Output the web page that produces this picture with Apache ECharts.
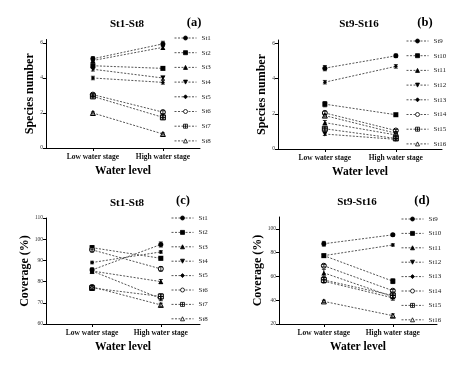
<!DOCTYPE html>
<html>
<head>
<meta charset="utf-8">
<script src="https://cdn.jsdelivr.net/npm/echarts@6/dist/echarts.min.js"></script>
<style>html,body{margin:0;padding:0;background:#fff}#c{width:474px;height:371px}</style>
</head>
<body>
<div id="c"></div>
<script>
// ---------- data ----------
const stages = ['Low water stage', 'High water stage'];
const namesA = ['St1','St2','St3','St4','St5','St6','St7','St8'];
const namesB = ['St9','St10','St11','St12','St13','St14','St15','St16'];

const speciesLowA  = [5.1, 4.7, 5.0, 4.5, 4.0, 3.05, 2.95, 2.0];
const speciesHighA = [5.95, 4.55, 5.75, 4.0, 3.75, 2.05, 1.75, 0.8];
const speciesErrLowA  = [0.12, 0.15, 0.12, 0.1, 0.1, 0.08, 0.08, 0.06];
const speciesErrHighA = [0.15, 0.06, 0.12, 0.1, 0.1, 0.08, 0.1, 0.06];

const speciesLowB  = [4.6, 2.55, 1.5, 0.85, 3.8, 2.05, 1.15, 1.9];
const speciesHighB = [5.3, 1.95, 0.8, 0.55, 4.7, 1.05, 0.6, 0.9];
const speciesErrLowB  = [0.15, 0.15, 0.12, 0.08, 0.1, 0.1, 0.08, 0.08];
const speciesErrHighB = [0.1, 0.05, 0.08, 0.06, 0.1, 0.06, 0.08, 0.06];

const coverLowA  = [85.5, 96, 85, 85, 89, 95, 77, 77.5];
const coverHighA = [97.5, 91, 80, 72, 94, 86, 73, 69];
const coverErrLowA  = [1.0, 1.0, 1.0, 1.2, 0.6, 1.0, 1.0, 1.0];
const coverErrHighA = [1.2, 0.8, 1.0, 1.0, 0.6, 1.0, 1.2, 0.8];

const coverLowB  = [87.5, 77.5, 63, 56, 77.5, 69, 57, 39];
const coverHighB = [95, 56, 43, 42, 86.5, 48, 44, 27];
const coverErrLowB  = [2.0, 1.0, 3.0, 1.5, 1.0, 1.0, 2.0, 1.0];
const coverErrHighB = [1.0, 2.0, 1.5, 2.0, 1.0, 1.0, 2.0, 1.5];

const speciesTicks = [0, 2, 4, 6];
const coverTicksA = [60, 70, 80, 90, 100, 110];
const coverTicksB = [20, 40, 60, 80, 100];

// ---------- styles ----------
const FONT = '"Liberation Serif", "Times New Roman", serif';
const symbols = [
  {symbol: 'circle', fill: '#000', size: 5},
  {symbol: 'rect', fill: '#000', size: 5},
  {symbol: 'triangle', fill: '#000', size: 5},
  {symbol: 'path://M0,0 L10,0 L5,10 Z', fill: '#000', size: 5},
  {symbol: 'diamond', fill: '#000', size: 4},
  {symbol: 'circle', fill: '#fff', size: 5},
  {symbol: 'path://M0,0H10V10H0Z M0,5H10 M5,0V10', fill: '#fff', size: 5},
  {symbol: 'triangle', fill: '#fff', size: 5}
];

const panels = [
  {names: namesA, low: speciesLowA, high: speciesHighA, eL: speciesErrLowA, eH: speciesErrHighA,
   grid: {left: 46, top: 39.5, width: 154, height: 108.5}, xr: [-0.67, 1.53],
   y: {min: 0, max: 6.2, interval: 2, ticks: speciesTicks}, yname: 'Species number', ynameGap: 10,
   legend: {left: 174, top: 34, gap: 6.7}},
  {names: namesB, low: speciesLowB, high: speciesHighB, eL: speciesErrLowB, eH: speciesErrHighB,
   grid: {left: 278, top: 40, width: 164, height: 109}, xr: [-0.66, 1.65],
   y: {min: 0, max: 6.2, interval: 2, ticks: speciesTicks}, yname: 'Species number', ynameGap: 10,
   legend: {left: 406, top: 37, gap: 6.7}},
  {names: namesA, low: coverLowA, high: coverHighA, eL: coverErrLowA, eH: coverErrHighA,
   grid: {left: 46, top: 218, width: 154, height: 106}, xr: [-0.67, 1.57],
   y: {min: 60, max: 110, interval: 10, ticks: coverTicksA}, yname: 'Coverage (%)', ynameGap: 13,
   legend: {left: 171, top: 214, gap: 6.4}},
  {names: namesB, low: coverLowB, high: coverHighB, eL: coverErrLowB, eH: coverErrHighB,
   grid: {left: 279, top: 217, width: 158, height: 107}, xr: [-0.65, 1.64],
   y: {min: 20, max: 110, interval: 20, ticks: coverTicksB}, yname: 'Coverage (%)', ynameGap: 14,
   legend: {left: 401, top: 215, gap: 6.4}}
];

const grids = [], xAxes = [], yAxes = [], series = [], legends = [];
panels.forEach((p, pi) => {
  grids.push(Object.assign({containLabel: false}, p.grid));
  xAxes.push({
    type: 'value', gridIndex: pi, min: p.xr[0], max: p.xr[1],
    name: 'Water level', nameLocation: 'middle', nameGap: 17,
    nameTextStyle: {fontFamily: FONT, fontWeight: 'bold', fontSize: 11.5, color: '#000'},
    splitLine: {show: false},
    axisLine: {onZero: false, lineStyle: {color: '#000', width: 1}},
    axisTick: {length: 3, customValues: [0, 1], lineStyle: {color: '#000'}},
    axisLabel: {customValues: [0, 1], margin: 5, formatter: v => stages[Math.round(v)],
      fontFamily: FONT, fontWeight: 'bold', fontSize: 7.5, color: '#111'}
  });
  yAxes.push({
    type: 'value', gridIndex: pi, min: p.y.min, max: p.y.max, interval: p.y.interval,
    name: p.yname, nameLocation: 'middle', nameGap: p.ynameGap,
    nameTextStyle: {fontFamily: FONT, fontWeight: 'bold', fontSize: 12, color: '#000'},
    splitLine: {show: false},
    axisLine: {show: true, onZero: false, lineStyle: {color: '#000', width: 1}},
    axisTick: {show: true, length: 3, customValues: p.y.ticks, lineStyle: {color: '#000'}},
    axisLabel: {customValues: p.y.ticks, margin: 3, fontFamily: FONT, fontSize: 5.5, color: '#333'}
  });
  p.names.forEach((nm, i) => {
    const s = symbols[i];
    series.push({
      type: 'line', name: nm, xAxisIndex: pi, yAxisIndex: pi,
      data: [[0, p.low[i]], [1, p.high[i]]],
      symbol: s.symbol, symbolSize: s.size, showSymbol: true,
      lineStyle: {color: '#555', width: 1, type: [2, 1.5]},
      itemStyle: {color: s.fill, borderColor: '#000', borderWidth: s.fill === '#fff' ? 1 : 0},
      emphasis: {disabled: true}, animation: false, z: 3
    });
  });
  const errData = [];
  p.names.forEach((nm, i) => {
    errData.push([0, p.low[i], p.eL[i]]);
    errData.push([1, p.high[i], p.eH[i]]);
  });
  series.push({
    type: 'custom', xAxisIndex: pi, yAxisIndex: pi, data: errData, animation: false, z: 4,
    renderItem: (params, api) => {
      const x = api.value(0), v = api.value(1), e = api.value(2);
      const top = api.coord([x, v + e]), bot = api.coord([x, v - e]);
      const w = 2;
      return {type: 'group', children: [
        {type: 'line', shape: {x1: top[0], y1: top[1], x2: bot[0], y2: bot[1]}, style: {stroke: '#000', lineWidth: 0.8}},
        {type: 'line', shape: {x1: top[0]-w, y1: top[1], x2: top[0]+w, y2: top[1]}, style: {stroke: '#000', lineWidth: 0.8}},
        {type: 'line', shape: {x1: bot[0]-w, y1: bot[1], x2: bot[0]+w, y2: bot[1]}, style: {stroke: '#000', lineWidth: 0.8}}
      ]};
    }
  });
  legends.push({
    orient: 'vertical', left: p.legend.left, top: p.legend.top, padding: 0,
    itemGap: p.legend.gap, itemWidth: 22, itemHeight: 5, data: p.names,
    selectedMode: false,
    itemStyle: {borderWidth: 0.8},
    lineStyle: {width: 1, color: '#555'},
    textStyle: {fontFamily: FONT, fontSize: 7, lineHeight: 8, color: '#222', padding: [0, 0, 0, 0]}
  });
});

const txt = (text, x, y, size) => ({type: 'text', x: x, y: y, silent: true,
  style: {text: text, fontFamily: FONT, fontWeight: 'bold', fontSize: size, fill: '#000',
    textAlign: 'center', textVerticalAlign: 'middle'}});

const chart = echarts.init(document.getElementById('c'), null, {renderer: 'canvas'});
chart.setOption({
  backgroundColor: '#fff',
  animation: false,
  grid: grids, xAxis: xAxes, yAxis: yAxes, series: series, legend: legends,
  graphic: [
    txt('St1-St8', 127, 24, 11), txt('(a)', 194, 23, 12.5),
    txt('St9-St16', 359, 24, 11), txt('(b)', 425, 23, 12.5),
    txt('St1-St8', 127, 203, 11), txt('(c)', 183, 201, 12.5),
    txt('St9-St16', 357, 202, 11), txt('(d)', 422, 201, 12.5)
  ]
});
</script>
</body>
</html>
